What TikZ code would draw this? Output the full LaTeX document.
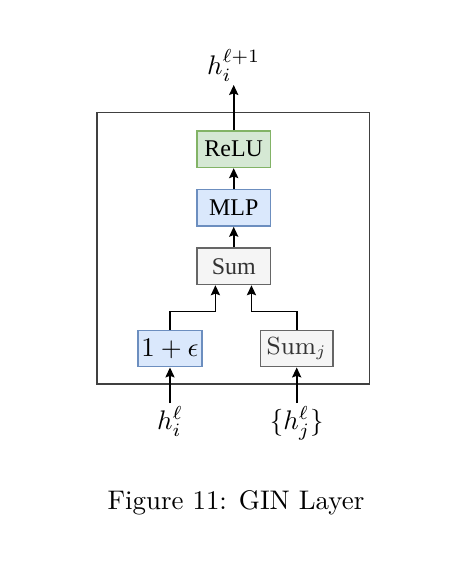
\documentclass[tikz,border=0pt]{standalone}
\usepackage{amsmath}
\usepackage{fontspec}
\newfontfamily\boxfont{Liberation Serif}
\usetikzlibrary{arrows.meta}
\tikzset{>={Stealth[length=3.7pt,width=3.4pt,inset=0.6pt]}}
\definecolor{reluFill}{HTML}{D5E8D4}
\definecolor{reluDraw}{HTML}{82B366}
\definecolor{blueFill}{HTML}{DAE8FC}
\definecolor{blueDraw}{HTML}{6C8EBF}
\definecolor{grayFill}{HTML}{F5F5F5}
\definecolor{grayDraw}{HTML}{666666}
\definecolor{grayText}{HTML}{333333}
\tikzset{%
  block/.style={draw, line width=0.5pt, minimum width=27.4pt, minimum height=13.6pt,
    inner sep=1pt, font=\fontsize{8.9}{10}\boxfont},
  greenblock/.style={block, fill=reluFill, draw=reluDraw},
  blueblock/.style={block, fill=blueFill, draw=blueDraw},
  grayblock/.style={block, fill=grayFill, draw=grayDraw, text=grayText},
  flow/.style={->, line width=0.6pt},
  io/.style={inner sep=1pt, font=\fontsize{9.7}{12}\selectfont}
}

\begin{document}
\begin{tikzpicture}[x=0.3717pt, y=-0.3717pt]

  % page size of the reference
  \useasboundingbox (0,0) rectangle (472,585);

  % outer layer frame
  \draw[line width=0.55pt, draw=black!75] (97,112.7) rectangle (369.5,384.2);

  % the blocks
  \node[greenblock] (relu) at (233.7,149.2) {ReLU};
  \node[blueblock]  (mlp)  at (233.7,207.8) {MLP};
  \node[grayblock]  (sum)  at (233.7,266.3) {Sum};
  \node[blueblock, minimum width=23.8pt, font=\fontsize{9.6}{11}\selectfont] (eps) at (170,348.5) {$1+\epsilon$};
  \node[grayblock, minimum width=27.1pt, font=\fontsize{9.2}{11}\selectfont] (sumj) at (296.7,348.5) {$\mathrm{Sum}_j$};

  % inputs and output
  \node[io, anchor=south] (hout) at (233.7,85) {$h_i^{\ell+1}$};
  \node[io, anchor=north] (hin) at (170,403) {$h_i^{\ell}$};
  \node[io, anchor=north] (hnb) at (296.7,403) {$\{h_j^{\ell}\}$};

  % entry points on Sum
  \coordinate (sumL) at ([xshift=-6.8pt]sum.south);
  \coordinate (sumR) at ([xshift=6.6pt]sum.south);

  % connectors
  \draw[flow] (hin.north) -- (eps.south);
  \draw[flow] (hnb.north) -- (sumj.south);
  \draw[flow] (eps.north) -- ++(0,-18) -| (sumL);
  \draw[flow] (sumj.north) -- ++(0,-18) -| (sumR);
  \draw[flow] (sum.north) -- (mlp.south);
  \draw[flow] (mlp.north) -- (relu.south);
  \draw[flow] (relu.north) -- (hout.south);

  % caption
  \node (caption) at (236,503) {Figure 11: GIN Layer};

\end{tikzpicture}
\end{document}
